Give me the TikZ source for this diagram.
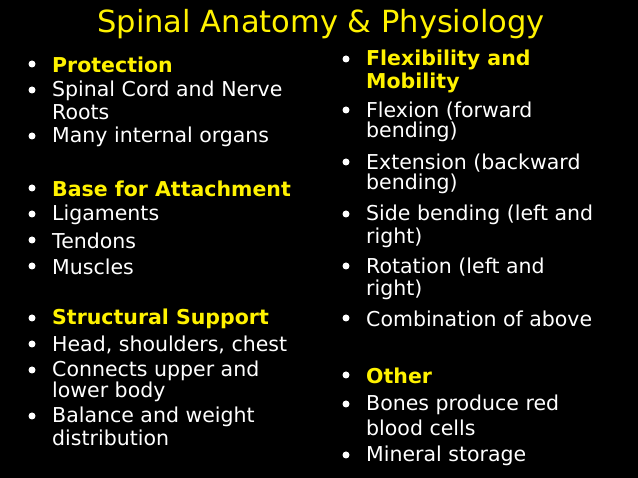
\documentclass[tikz,border=0pt]{standalone}
\usepackage{fontspec}
\setmainfont{DejaVu Sans}
\begin{document}
\begin{tikzpicture}[x=1pt,y=1pt,
  t/.style={anchor=west,inner sep=0pt,text=white,font=\fontsize{20.5}{24}\selectfont},
  h/.style={t,text=yellow,font=\fontsize{20.5}{24}\selectfont\bfseries},
  b/.style={circle,fill=white,inner sep=0pt,minimum size=7pt}]
\fill[black] (0,0) rectangle (638,478);
\useasboundingbox (0,0) rectangle (638,478);
\node[text=yellow,font=\fontsize{30.5}{34}\selectfont] (title) at (321,454) {Spinal Anatomy \& Physiology};
% left column
\foreach \n/\y in {b1/65,b2/91,b3/137,b4/189,b5/215,b6/241,b7/267,b8/319,b9/345,b10/371,b11/417}
  \node[b] (\n) at (32,478-\y+1) {};
\node[h] (l1) at (52,478-65) {Protection};
\node[t] (l2) at (52,478-91) {Spinal Cord and Nerve};
\node[t] (l3) at (52,478-112) {Roots};
\node[t] (l4) at (52,478-137) {Many internal organs};
\node[h] (l5) at (52,478-189) {Base for Attachment};
\node[t] (l6) at (52,478-215) {Ligaments};
\node[t] (l7) at (52,478-241) {Tendons};
\node[t] (l8) at (52,478-267) {Muscles};
\node[h] (l9) at (52,478-319) {Structural Support};
\node[t] (l10) at (52,478-345) {Head, shoulders, chest};
\node[t] (l11) at (52,478-371) {Connects upper and};
\node[t] (l12) at (52,478-392) {lower body};
\node[t] (l13) at (52,478-417) {Balance and weight};
\node[t] (l14) at (52,478-438) {distribution};
% right column
\foreach \n/\y in {c1/60,c2/111,c3/163,c4/215,c5/267,c6/319,c7/376,c8/405,c9/456}
  \node[b] (\n) at (346,478-\y+1) {};
\node[h] (r1) at (366,478-60) {Flexibility and};
\node[h] (r2) at (366,478-83) {Mobility};
\node[t] (r3) at (366,478-111) {Flexion (forward};
\node[t] (r4) at (366,478-132) {bending)};
\node[t] (r5) at (366,478-163) {Extension (backward};
\node[t] (r6) at (366,478-184) {bending)};
\node[t] (r7) at (366,478-215) {Side bending (left and};
\node[t] (r8) at (366,478-238) {right)};
\node[t] (r9) at (366,478-267) {Rotation (left and};
\node[t] (r10) at (366,478-290) {right)};
\node[t] (r11) at (366,478-319) {Combination of above};
\node[h] (r12) at (366,478-376) {Other};
\node[t] (r13) at (366,478-405) {Bones produce red};
\node[t] (r14) at (366,478-428) {blood cells};
\node[t] (r15) at (366,478-456) {Mineral storage};
\end{tikzpicture}
\end{document}
